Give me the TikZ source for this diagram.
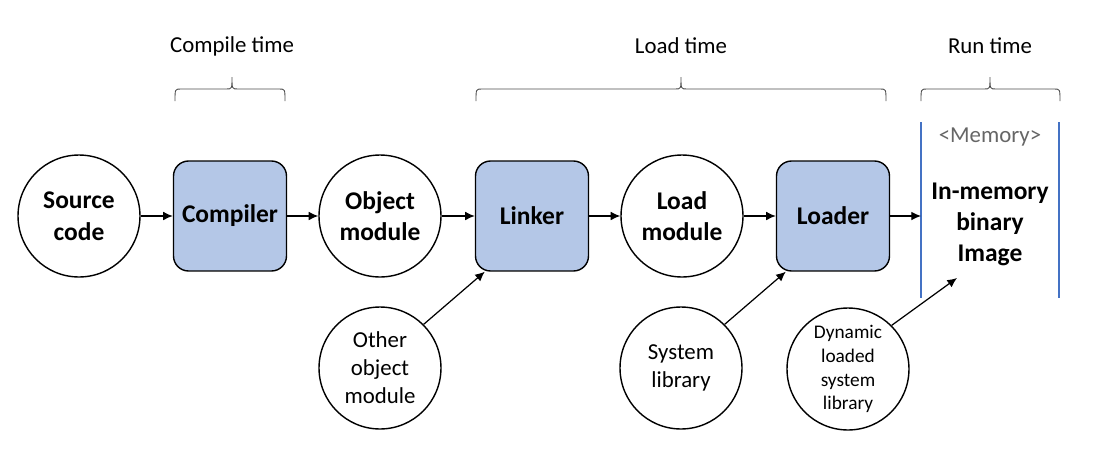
\documentclass[tikz,border=0pt]{standalone}
\usepackage{fontspec}
\setmainfont{Carlito}
\usetikzlibrary{arrows.meta}

\definecolor{boxblue}{HTML}{B4C7E7}
\definecolor{memblue}{HTML}{4472C4}

\begin{document}
\begin{tikzpicture}[
    x=0.02cm, y=-0.02cm,
    stage/.style={
        draw,
        circle,
        line width=0.8pt,
        minimum size=2.44cm,
        inner sep=0pt,
        align=center,
        font={\fontsize{14.5}{18}\selectfont\bfseries},
    },
    extra/.style={
        stage,
        font={\fontsize{13}{16}\selectfont},
    },
    tool/.style={
        draw,
        rectangle,
        rounded corners=0.3cm,
        fill=boxblue,
        line width=0.8pt,
        minimum width=2.26cm,
        minimum height=2.2cm,
        align=center,
        font={\fontsize{14.5}{18}\selectfont\bfseries},
    },
    flow/.style={-{Latex[length=5.5pt,width=5pt]}, line width=0.7pt},
    phase/.style={draw=black!70, line width=0.5pt},
    phaselabel/.style={font={\fontsize{13}{16}\selectfont}},
]
\useasboundingbox (0,0) rectangle (1107,471);

\def\TOP{77}    %tip of braces
\def\MID{89}    %bar of braces
\def\BOT{101}   %feet of braces
\def\phasebrace#1#2#3{%
    \draw[phase] (#1,\BOT) .. controls (#1,\MID) .. (#1+6,\MID) -- (#2-6,\MID)
        .. controls (#2,\MID) .. (#2,\TOP) .. controls (#2,\MID) .. (#2+6,\MID)
        -- (#3-6,\MID) .. controls (#3,\MID) .. (#3,\BOT);}

% main chain
\node[stage] (src)    at (79,216)  {Source\\code};
\node[tool]  (comp)   at (230,216) {Compiler};
\node[stage] (obj)    at (380,216) {Object\\module};
\node[tool]  (link)   at (532,216) {Linker};
\node[stage] (load)   at (682,216) {Load\\module};
\node[tool]  (loader) at (833,216) {Loader};

% memory
\coordinate (M1) at (921,122);
\coordinate (M2) at (921,298);
\coordinate (M3) at (1059,122);
\coordinate (M4) at (1059,298);
\draw[memblue, line width=1.2pt] (M1) -- (M2) (M3) -- (M4);
\node[text=black!60, font={\fontsize{13}{16}\selectfont}] (memtag) at (990,137) {<Memory>};
\node[align=center, font={\fontsize{14.5}{17.6}\selectfont\bfseries}] (image) at (990,224) {In-memory\\binary\\Image};
\coordinate (in) at (921,216);

% side inputs
\node[extra] (other) at (380,368) {Other\\object\\module};
\node[extra] (sys)   at (681,368) {System\\library};
\node[extra, font={\fontsize{11}{13.6}\selectfont}] (dyn) at (848,369) {Dynamic\\loaded\\system\\library};
\coordinate (dynend) at (957,278);

\draw[flow] (src) -- (comp);
\draw[flow] (comp) -- (obj);
\draw[flow] (obj) -- (link);
\draw[flow] (link) -- (load);
\draw[flow] (load) -- (loader);
\draw[flow] (loader) -- (in);

\draw[flow] (other.45) -- ([xshift=0.2cm]link.south west);
\draw[flow] (sys.45) -- ([xshift=0.2cm]loader.south west);
\draw[flow] (dyn.45) -- (dynend);

% phases
\phasebrace{175}{232}{285}
\phasebrace{476}{681}{886}
\phasebrace{921}{990}{1060}
\node[phaselabel] (ct) at (232,46) {Compile time};
\node[phaselabel] (lt) at (681,46) {Load time};
\node[phaselabel] (rt) at (990,46) {Run time};

\end{tikzpicture}
\end{document}
